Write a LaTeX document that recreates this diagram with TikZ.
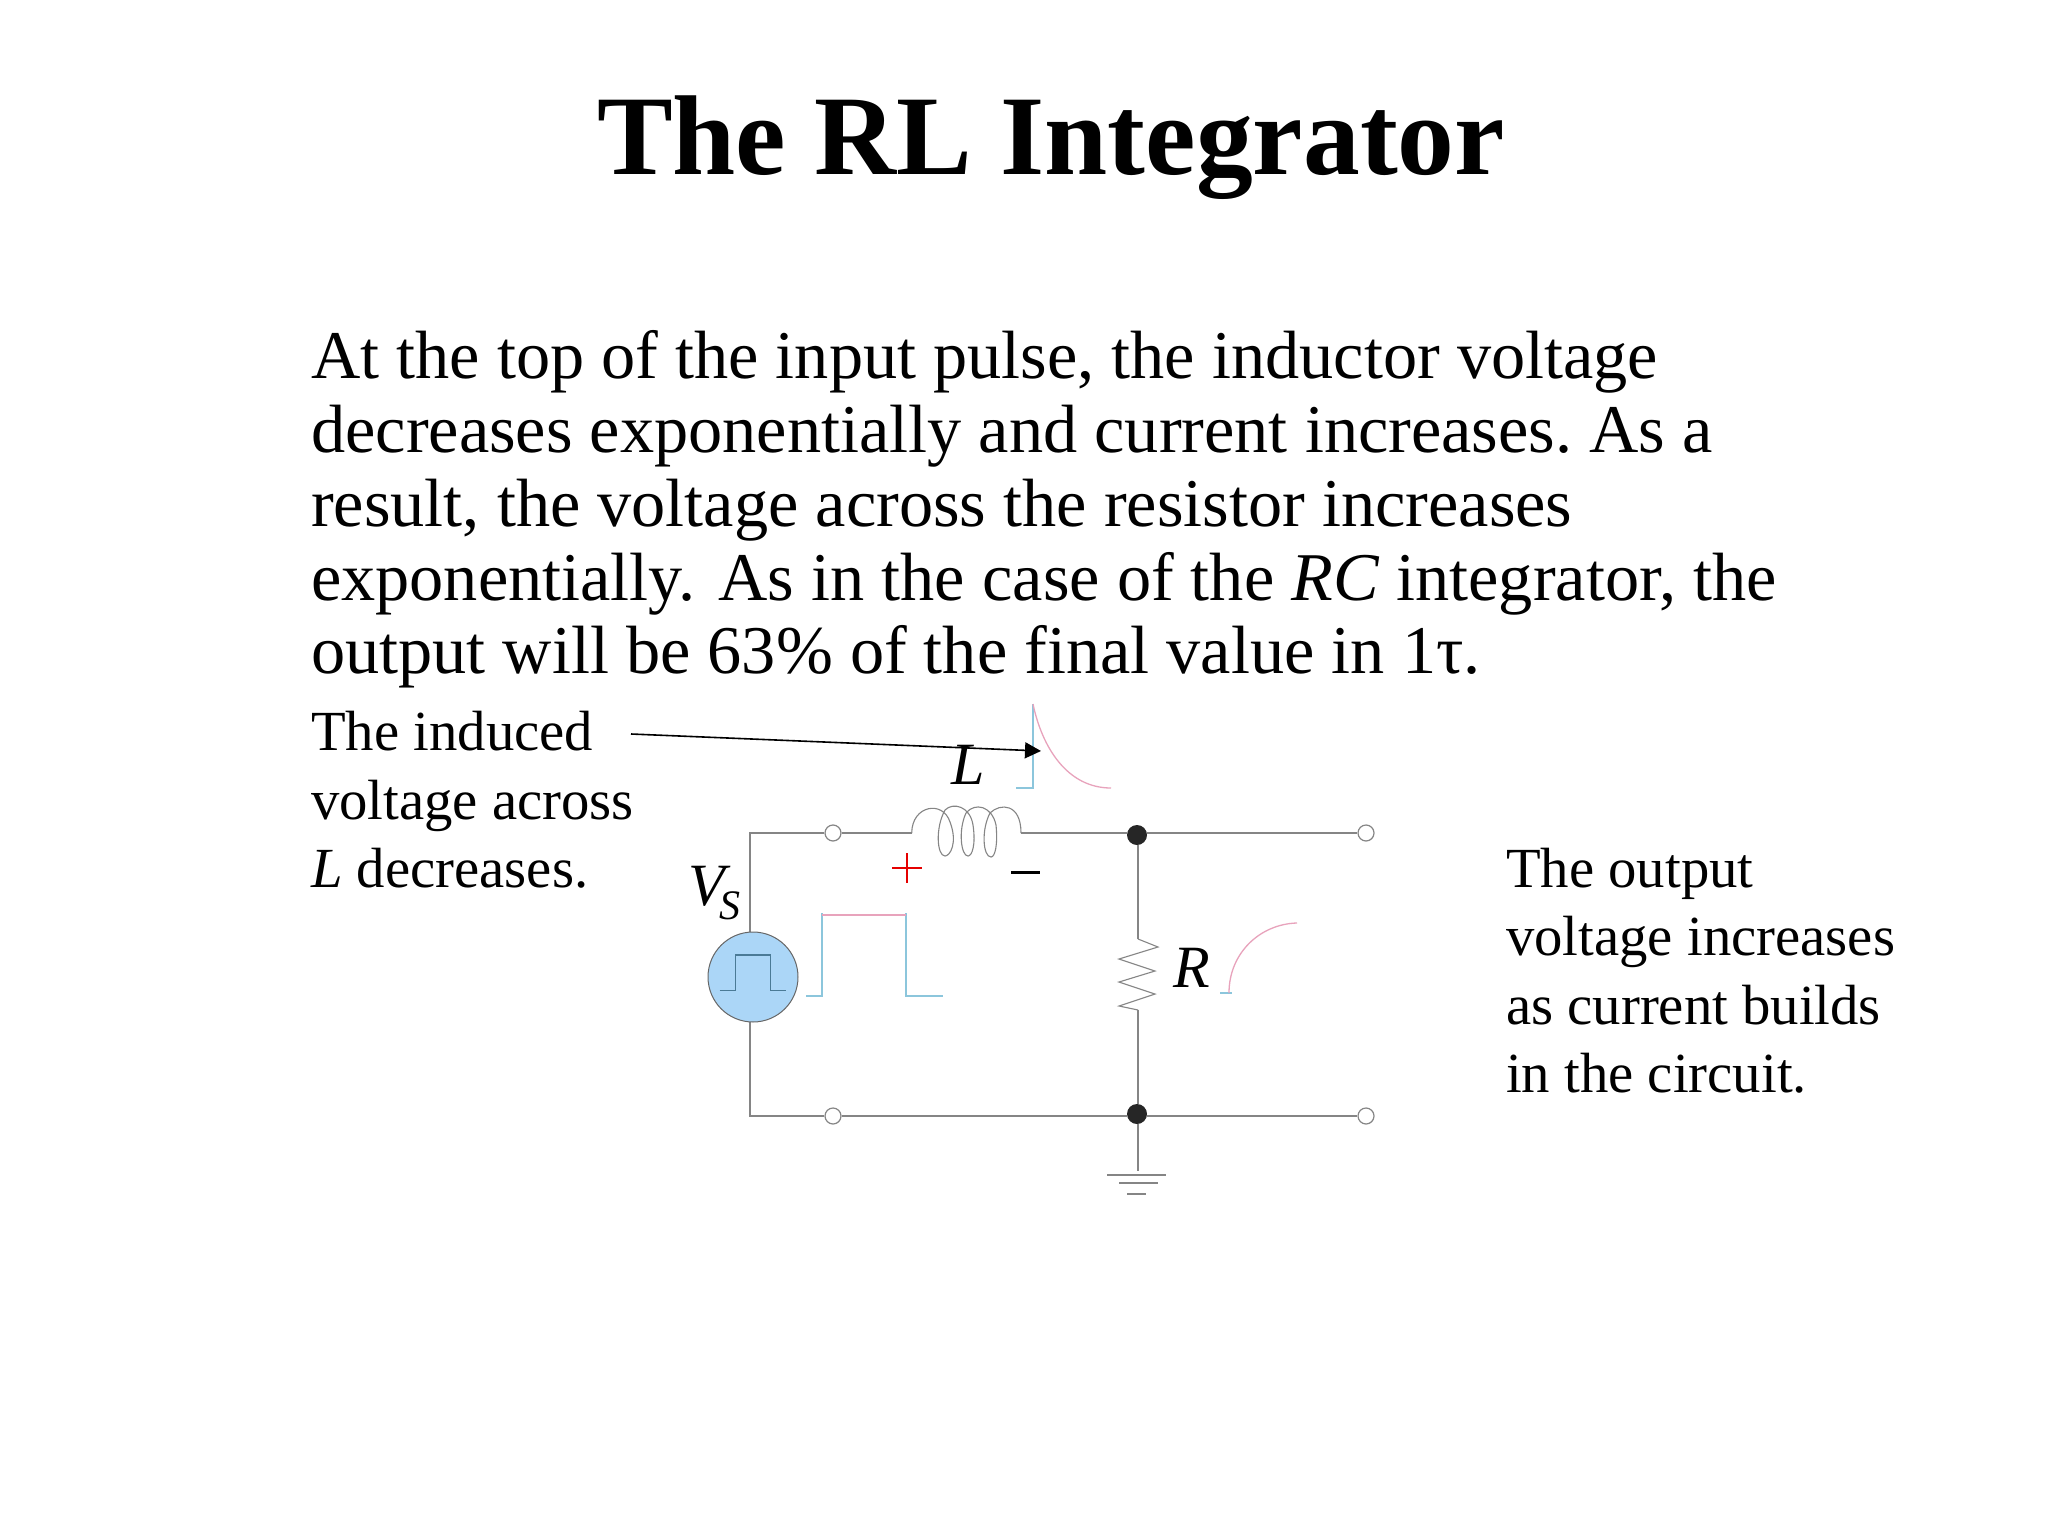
\documentclass[tikz,border=0pt]{standalone}
\usepackage{fontspec}
\setmainfont{Liberation Serif}
\usetikzlibrary{arrows.meta}
\frenchspacing
\colorlet{wire}{black!48}
\definecolor{pinkline}{HTML}{E8A3BC}
\definecolor{blueline}{HTML}{8CC6DC}
\definecolor{srcfill}{HTML}{ABD6F7}
\definecolor{srcpulse}{HTML}{4A7A96}
\tikzset{
  wireline/.style={draw=wire,line width=1.2pt},
  pk/.style={draw=pinkline,line width=1.3pt},
  bl/.style={draw=blueline,line width=1.3pt},
  opn/.style={circle,draw=wire,fill=white,line width=1.2pt,minimum size=16pt,inner sep=0pt},
  dotn/.style={circle,fill=black!85,minimum size=20pt,inner sep=0pt},
  bodytext/.style={anchor=north west,align=left,inner sep=0pt,font=\fontsize{68.3}{73.8}\selectfont},
  sidetext/.style={anchor=north west,align=left,inner sep=0pt,font=\fontsize{56.7}{68.6}\selectfont},
  sym/.style={inner sep=0pt,font=\fontsize{60}{60}\selectfont\itshape},
}
\begin{document}
\begin{tikzpicture}[x=1pt,y=-1pt]
\path[use as bounding box,fill=white] (0,0) rectangle (2048,1536);
\node[inner sep=0pt,font=\fontsize{113.5}{113.5}\bfseries\selectfont] (title) at (1051,147.5) {The RL Integrator};
\node[bodytext] (body) at (311,330.5) {At the top of the input pulse, the inductor voltage\\decreases exponentially and current increases. As a\\result, the voltage across the resistor increases\\exponentially.\hspace{6pt} As in the case of the \textit{RC} integrator, the\\output will be 63\% of the final value in 1τ.};
\node[sidetext] (left) at (311,711) {The induced\\voltage across\\\textit{L} decreases.};
\node[sidetext] (right) at (1506,847.5) {The output\\voltage increases\\as current builds\\in the circuit.};
% circuit nodes
\coordinate (tl) at (750,833);
\coordinate (bl) at (750,1116);
\coordinate (srcT) at (750,932);
\coordinate (srcB) at (750,1022);
\coordinate (coilA) at (911.7,833);
\coordinate (coilB) at (1021,833);
\coordinate (resT) at (1138,939);
\coordinate (resB) at (1138,1010);
\coordinate (gnd) at (1138,1171);
\node[opn] (t1) at (833,833) {};
\node[opn] (t2) at (1366,833) {};
\node[opn] (b1) at (833,1116) {};
\node[opn] (b2) at (1366,1116) {};
\node[dotn] (jt) at (1137,835) {};
\node[dotn] (jb) at (1137,1114) {};
\draw[wireline] (srcT) -- (tl) -- (t1) -- (coilA);
\draw[wireline] (coilB) -- (jt.west |- coilB);
\draw[wireline] (jt.east |- coilB) -- (t2);
\draw[wireline] (srcB) -- (bl) -- (b1) -- (jb.west |- b1);
\draw[wireline] (jb.east |- b1) -- (b2);
\draw[wireline] (jt.south -| resT) -- (resT);
\draw[wireline] (resB) -- (jb.north -| resB);
\draw[wireline] (jb.south -| gnd) -- (gnd);
% source
\node[circle,draw=black!60,fill=srcfill,line width=1pt,minimum size=90pt,inner sep=0pt] (src) at (753,977) {};
\draw[draw=srcpulse,line width=1.1pt] (719.5,990.5) -- (735.5,990.5) -- (735.5,955) -- (770.5,955) -- (770.5,990.5) -- (786,990.5);
% inductor
\draw[draw=wire,line width=1.1pt] (coilA)
  .. controls (912,805) and (943,800) .. (950,822)
  .. controls (958,843) and (950,856) .. (945,856)
  .. controls (937,856) and (935,828) .. (945,810)
  .. controls (953,802) and (970,806) .. (973,825)
  .. controls (976,845) and (972,856) .. (968,856)
  .. controls (961,856) and (958,830) .. (966,813)
  .. controls (975,802) and (992,806) .. (996,825)
  .. controls (998,845) and (995,857) .. (991,857)
  .. controls (983,857) and (981,830) .. (990,813)
  .. controls (1000,803) and (1021,803) .. (coilB);
% resistor
\draw[wireline,line width=1.1pt] (resT) -- (1158,947) -- (1119,959) -- (1155,971) -- (1119,982) -- (1155,994) -- (1119,1006) -- (resB);
% ground
\draw[wireline] (1107,1175) -- (1166,1175);
\draw[wireline] (1119,1183) -- (1158,1183);
\draw[wireline] (1127,1194) -- (1146,1194);
% waveforms
\draw[bl] (806,996) -- (822,996) -- (822,913);
\draw[bl] (906,913) -- (906,996) -- (943,996);
\draw[pk] (822,915) -- (906,915);
\draw[bl] (1016,788) -- (1033,788) -- (1033,704);
\draw[pk] (1033,704) .. controls (1042,747) and (1067,788) .. (1111,788);
\draw[bl] (1220,993) -- (1232,993);
\draw[pk] (1229,993) .. controls (1229,953) and (1260,924) .. (1297,923);
% polarity
\draw[draw=red!90!black,line width=1.6pt] (892,868) -- (922,868) (907,853) -- (907,883);
\draw[draw=black,line width=3pt] (1011,872) -- (1040,872);
% labels
\node[sym] (Lbl) at (968,765) {L};
\node[sym] (Rbl) at (1192,968) {R};
\node[inner sep=0pt,anchor=base west,font=\fontsize{60}{60}\selectfont\itshape] (Vbl) at (688,905) {V\hspace{-5pt}\raisebox{-14pt}{\fontsize{42}{42}\selectfont S}};
% arrow
\coordinate (arrowS) at (631,734);
\coordinate (arrowE) at (1041,751);
\draw[line width=1.6pt,-{Triangle[length=16pt,width=16pt]}] (arrowS) -- (arrowE);
\end{tikzpicture}
\end{document}
